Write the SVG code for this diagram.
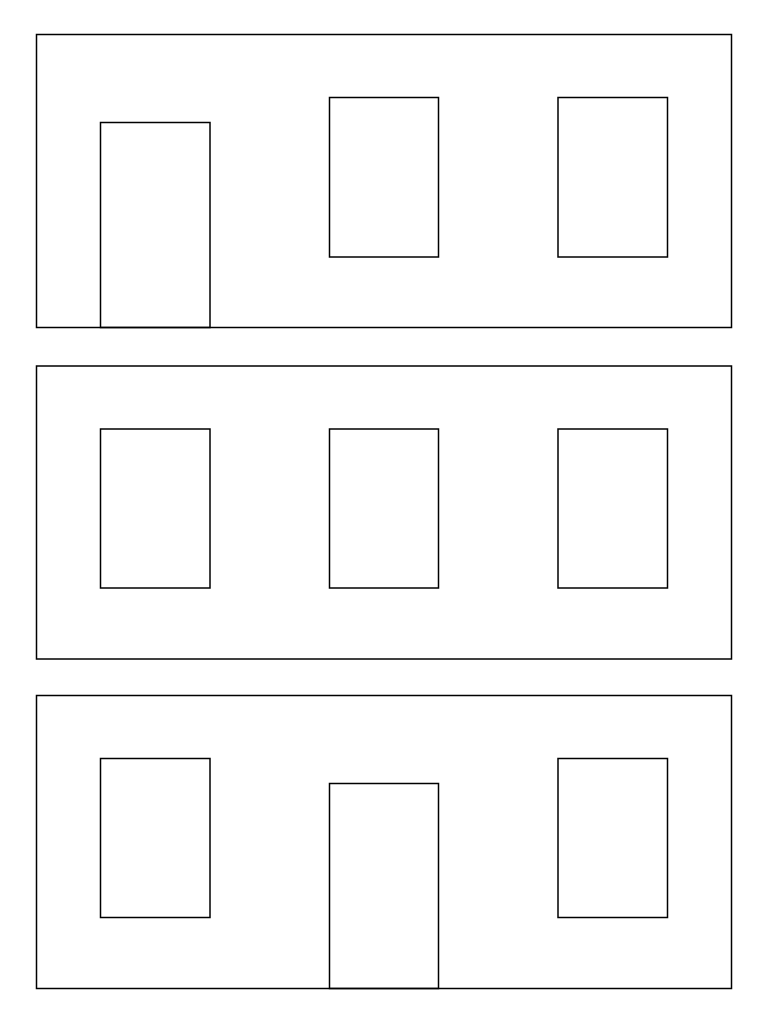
<svg xmlns="http://www.w3.org/2000/svg" width="768" height="1024" viewBox="0 0 768 1024">
<style>
rect{fill:none;stroke:#000;stroke-width:1.5}
</style>
<rect x="0" y="0" width="768" height="1024" style="fill:#fff;stroke:none"/>
<g id="floor1">
<rect x="36.5" y="34.5" width="695" height="293"/>
<rect id="door1" x="100.5" y="122.5" width="109.5" height="205"/>
<rect id="w1b" x="329.5" y="97.5" width="109" height="159.5"/>
<rect id="w1c" x="558" y="97.5" width="109.5" height="159.5"/>
</g>
<g id="floor2">
<rect x="36.5" y="366" width="695" height="293"/>
<rect id="w2a" x="100.5" y="429" width="109.5" height="159"/>
<rect id="w2b" x="329.5" y="429" width="109" height="159"/>
<rect id="w2c" x="558" y="429" width="109.5" height="159"/>
</g>
<g id="floor3">
<rect x="36.5" y="695.5" width="695" height="293"/>
<rect id="w3a" x="100.5" y="758.5" width="109.5" height="159"/>
<rect id="door3" x="329.5" y="783.5" width="109" height="205"/>
<rect id="w3c" x="558" y="758.5" width="109.5" height="159"/>
</g>
<g id="connectors"/>
</svg>
